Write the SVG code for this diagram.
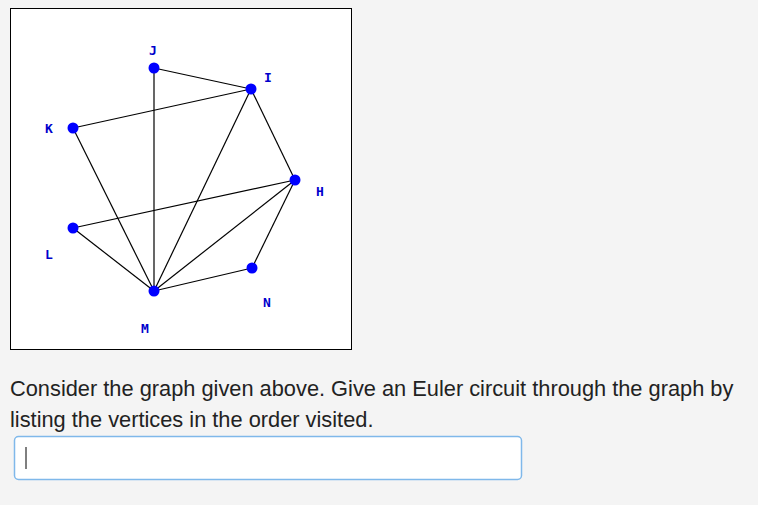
<svg xmlns="http://www.w3.org/2000/svg" width="758" height="505" viewBox="0 0 758 505">
<style>
.e{stroke:#000;stroke-width:1.2}
.v{fill:#0000ff}
.l{font-family:"DejaVu Sans Mono","Liberation Mono",monospace;font-weight:bold;font-size:13px;fill:#0000cc}
.t{font-family:"Liberation Sans",Arial,sans-serif;font-size:21.8px;fill:#222}
</style>
<rect width="758" height="505" fill="#f4f4f4"/>
<rect x="10.5" y="8.5" width="341" height="341" fill="#fff" stroke="#000"/>
<g id="edges">
<line class="e" x1="154" y1="68" x2="251" y2="89"/>
<line class="e" x1="154" y1="68" x2="154" y2="291"/>
<line class="e" x1="73" y1="128" x2="251" y2="89"/>
<line class="e" x1="73" y1="128" x2="154" y2="291"/>
<line class="e" x1="251" y1="89" x2="154" y2="291"/>
<line class="e" x1="251" y1="89" x2="295" y2="180"/>
<line class="e" x1="295" y1="180" x2="73" y2="228"/>
<line class="e" x1="295" y1="180" x2="154" y2="291"/>
<line class="e" x1="295" y1="180" x2="252" y2="268"/>
<line class="e" x1="73" y1="228" x2="154" y2="291"/>
<line class="e" x1="252" y1="268" x2="154" y2="291"/>
</g>
<g id="J"><circle class="v" cx="154" cy="68" r="5.5"/><text class="l" x="149" y="55">J</text></g>
<g id="I"><circle class="v" cx="251" cy="89" r="5.5"/><text class="l" x="264" y="82">I</text></g>
<g id="K"><circle class="v" cx="73" cy="128" r="5.5"/><text class="l" x="45" y="133">K</text></g>
<g id="H"><circle class="v" cx="295" cy="180" r="5.5"/><text class="l" x="316" y="196">H</text></g>
<g id="L"><circle class="v" cx="73" cy="228" r="5.5"/><text class="l" x="45" y="259">L</text></g>
<g id="N"><circle class="v" cx="252" cy="268" r="5.5"/><text class="l" x="263" y="307">N</text></g>
<g id="M"><circle class="v" cx="154" cy="291" r="5.5"/><text class="l" x="141" y="333">M</text></g>
<text class="t" x="10" y="396">Consider the graph given above. Give an Euler circuit through the graph by</text>
<text class="t" x="10" y="427">listing the vertices in the order visited.</text>
<rect x="14.5" y="436.5" width="507" height="43" rx="4" fill="#fff" stroke="#7fb8ea" stroke-width="1.5"/>
<line x1="26" y1="447" x2="26" y2="469" stroke="#000" stroke-width="1"/>
</svg>
